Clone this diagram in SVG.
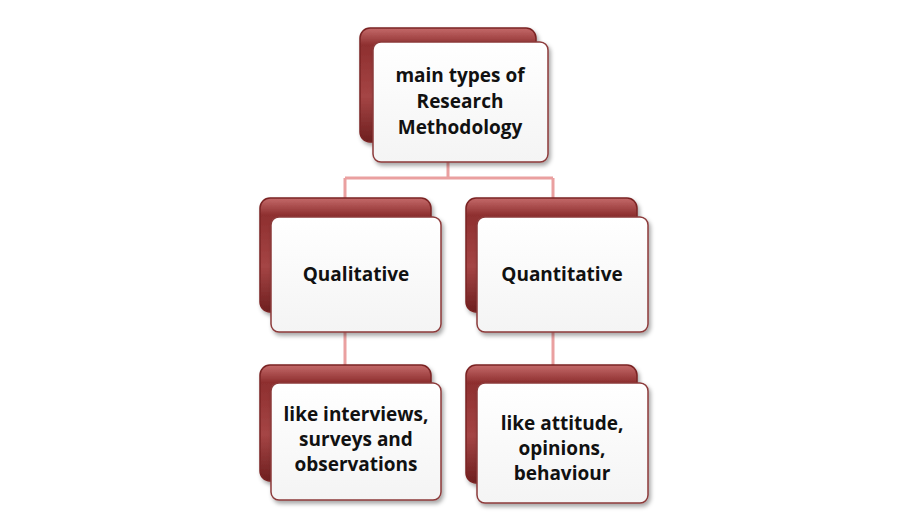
<svg xmlns="http://www.w3.org/2000/svg" width="904" height="529" viewBox="0 0 904 529">
<defs>
<linearGradient id="red" x1="0" y1="0" x2="0" y2="1">
<stop offset="0" stop-color="#c46a6a"/><stop offset="0.15" stop-color="#8e2f2f"/><stop offset="0.6" stop-color="#a54545"/><stop offset="1" stop-color="#6e1f1f"/>
</linearGradient>
<linearGradient id="white" x1="0" y1="0" x2="0" y2="1">
<stop offset="0" stop-color="#ffffff"/><stop offset="1" stop-color="#f4f4f4"/>
</linearGradient>
<filter id="sh" x="-10%" y="-10%" width="130%" height="130%"><feDropShadow dx="2" dy="3" stdDeviation="2" flood-opacity="0.35"/></filter>
</defs>
<style>
.back{fill:url(#red);stroke:#7a2424;stroke-width:1.5;filter:url(#sh)}
.front{fill:url(#white);stroke:#8c3a3a;stroke-width:1.5;filter:url(#sh)}
.t{font-family:"Open Sans","Liberation Sans",sans-serif;font-weight:bold;font-size:19px;fill:#111;text-anchor:middle}
.c{stroke:#eaa0a0;stroke-width:3;fill:none}
</style>
<rect width="904" height="529" fill="#fff"/>
<g id="connectors">
<path class="c" d="M448 162V178M345 178H553M345 178V200M553 178V200M345 332V367M553 332V367"/>
</g>
<g id="n-top">
<rect class="back" x="360" y="28" width="176" height="114" rx="10"/>
<rect class="front" x="373" y="42" width="175" height="120" rx="8"/>
<text class="t" x="460" y="82">main types of</text>
<text class="t" x="460" y="108">Research</text>
<text class="t" x="460" y="134">Methodology</text>
</g>
<g id="n-qual">
<rect class="back" x="260" y="198" width="171" height="114" rx="10"/>
<rect class="front" x="271" y="217" width="170" height="115" rx="8"/>
<text class="t" x="356" y="281">Qualitative</text>
</g>
<g id="n-quant">
<rect class="back" x="466" y="198" width="171" height="114" rx="10"/>
<rect class="front" x="477" y="217" width="171" height="115" rx="8"/>
<text class="t" x="562" y="281">Quantitative</text>
</g>
<g id="n-qual-ex">
<rect class="back" x="260" y="365" width="171" height="116" rx="10"/>
<rect class="front" x="271" y="383" width="170" height="117" rx="8"/>
<text class="t" x="356" y="421">like interviews,</text>
<text class="t" x="356" y="446">surveys and</text>
<text class="t" x="356" y="471">observations</text>
</g>
<g id="n-quant-ex">
<rect class="back" x="466" y="365" width="171" height="118" rx="10"/>
<rect class="front" x="477" y="383" width="171" height="120" rx="8"/>
<text class="t" x="562" y="430">like attitude,</text>
<text class="t" x="562" y="455">opinions,</text>
<text class="t" x="562" y="480">behaviour</text>
</g>
</svg>
